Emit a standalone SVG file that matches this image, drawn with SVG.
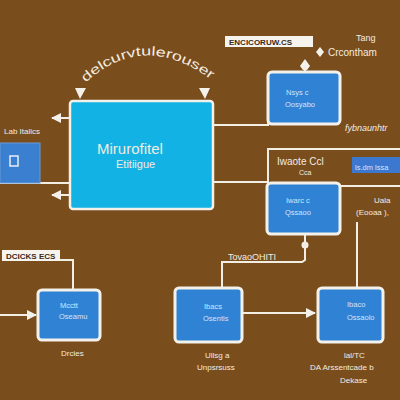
<svg xmlns="http://www.w3.org/2000/svg" width="400" height="400" viewBox="0 0 400 400">
<defs>
<style>
.bg{fill:#7a4d1d}
.box{fill:#2f82d4;stroke:#f4f1ea;stroke-width:3}
.main{fill:#12b2e5;stroke:#f4f1ea;stroke-width:2.5}
.ln{stroke:#f2eee4;stroke-width:2;fill:none}
.t{font-family:"Liberation Sans",Arial,sans-serif;fill:#f2ece0}
.bt{font-family:"Liberation Sans",Arial,sans-serif;fill:#cfe6fb;font-size:7.5px}
.dk{font-family:"Liberation Sans",Arial,sans-serif;fill:#3a2a18;font-size:8px;font-weight:bold}
.tag{fill:#f7f4ee}
</style>
<marker id="ar" viewBox="0 0 10 10" refX="9" refY="5" markerWidth="5" markerHeight="5" orient="auto">
<path d="M0,0 L10,5 L0,10 z" fill="#f4f1ea"/>
</marker>
<path id="arc" d="M84,84 Q145,28 214,82"/>
</defs>
<rect class="bg" x="0" y="0" width="400" height="400"/>

<g id="connectors">
<line class="ln" x1="70" y1="118" x2="52" y2="118" marker-end="url(#ar)"/>
<line class="ln" x1="70" y1="195" x2="52" y2="195" marker-end="url(#ar)"/>
<line class="ln" x1="0" y1="183" x2="70" y2="183"/>
<path d="M75,88 L86,88 L80,99 z" fill="#f4f1ea"/>
<path d="M199,88 L210,88 L205,99 z" fill="#f4f1ea"/>
<polyline class="ln" points="213,125 268,125 268,120"/>
<line class="ln" x1="213" y1="182" x2="268" y2="182"/>
<path d="M305,59 L300,66 L303,70 L307,70 L310,66 z" fill="#f4f1ea"/>
<line class="ln" x1="305" y1="66" x2="305" y2="72"/>
<polyline class="ln" points="268,183 268,149 400,149"/>
<line class="ln" x1="340" y1="186" x2="400" y2="186"/>
<line class="ln" x1="357" y1="222" x2="357" y2="288"/>
<circle cx="305" cy="245" r="3.5" fill="#f4f1ea"/>
<polyline class="ln" points="305,233 305,260 302,262 222,262 222,288"/>
<line class="ln" x1="243" y1="313" x2="315" y2="313" marker-end="url(#ar)"/>
<polyline class="ln" points="60,260 73,260 73,289"/>
<line class="ln" x1="0" y1="315" x2="36" y2="315" marker-end="url(#ar)"/>
<path d="M320,47 L324,52 L320,57 L316,52 z" fill="#f4f1ea"/>
</g>

<g id="main">
<rect class="main" x="70" y="101" width="143" height="108" rx="3"/>
<text class="t" x="97" y="154" font-size="15" fill="#e8f6ff">Mirurofitel</text>
<text class="t" x="116" y="168" font-size="11" fill="#e8f6ff">Etitiigue</text>
</g>

<g id="arclabel">
<text class="t" font-size="13"><textPath href="#arc" startOffset="2" textLength="138" lengthAdjust="spacingAndGlyphs">delcurvtulerouser</textPath></text>
</g>

<g id="left">
<rect x="0" y="143" width="40" height="40" fill="#3a7fd0" stroke="#6a9bd8" stroke-width="1"/>
<rect x="10" y="156" width="8" height="10" fill="none" stroke="#e8eef8" stroke-width="1.5"/>
<text class="t" x="4" y="134" font-size="8">Lab Italics</text>
</g>

<g id="n2">
<rect class="box" x="268" y="72" width="72" height="52" rx="4"/>
<text class="bt" x="286" y="95">Nsys c</text>
<text class="bt" x="285" y="107">Oosyabo</text>
<rect class="tag" x="225" y="36" width="88" height="11"/>
<text class="dk" x="229" y="45">ENCICORUW.CS</text>
<text class="t" x="356" y="41" font-size="9">Tang</text>
<text class="t" x="328" y="56" font-size="10">Crcontham</text>
<text class="t" x="345" y="131" font-size="9" font-style="italic">fybnaunhtr</text>
</g>

<g id="n3">
<rect class="box" x="267" y="183" width="73" height="51" rx="4"/>
<text class="bt" x="286" y="203">Iwarc c</text>
<text class="bt" x="285" y="215">Qssaoo</text>
<text class="t" x="277" y="165" font-size="10">Iwaote Ccl</text>
<text class="t" x="299" y="175" font-size="7">Cca</text>
<rect x="352" y="157" width="48" height="16" fill="#3d78d0"/>
<text class="bt" x="355" y="170" font-size="5">ls.dm  lssa</text>
<text class="t" x="374" y="203" font-size="8">Uala</text>
<text class="t" x="356" y="215" font-size="8">(Eooaa ),</text>
</g>

<g id="n4">
<rect class="box" x="175" y="288" width="67" height="54" rx="4"/>
<text class="bt" x="204" y="309">Ibacs</text>
<text class="bt" x="203" y="321">Osentis</text>
<text class="t" x="228" y="260" font-size="9">TovaoOHITI</text>
<text class="t" x="205" y="358" font-size="8">Ullsg a</text>
<text class="t" x="197" y="370" font-size="8">Unpsrsuss</text>
</g>

<g id="n5">
<rect class="box" x="318" y="288" width="65" height="54" rx="4"/>
<text class="bt" x="347" y="307">Ibaco</text>
<text class="bt" x="347" y="320">Ossaolo</text>
<text class="t" x="344" y="358" font-size="8">lal/TC</text>
<text class="t" x="310" y="370" font-size="8">DA Arssentcade b</text>
<text class="t" x="340" y="383" font-size="8">Dekase</text>
</g>

<g id="n6">
<rect class="box" x="38" y="290" width="62" height="50" rx="4"/>
<text class="bt" x="60" y="308">Mcctt</text>
<text class="bt" x="59" y="319">Oseamu</text>
<rect class="tag" x="2" y="250" width="58" height="11"/>
<text class="dk" x="6" y="259">DCICKS ECS</text>
<text class="t" x="61" y="356" font-size="8">Drcies</text>
</g>
</svg>
